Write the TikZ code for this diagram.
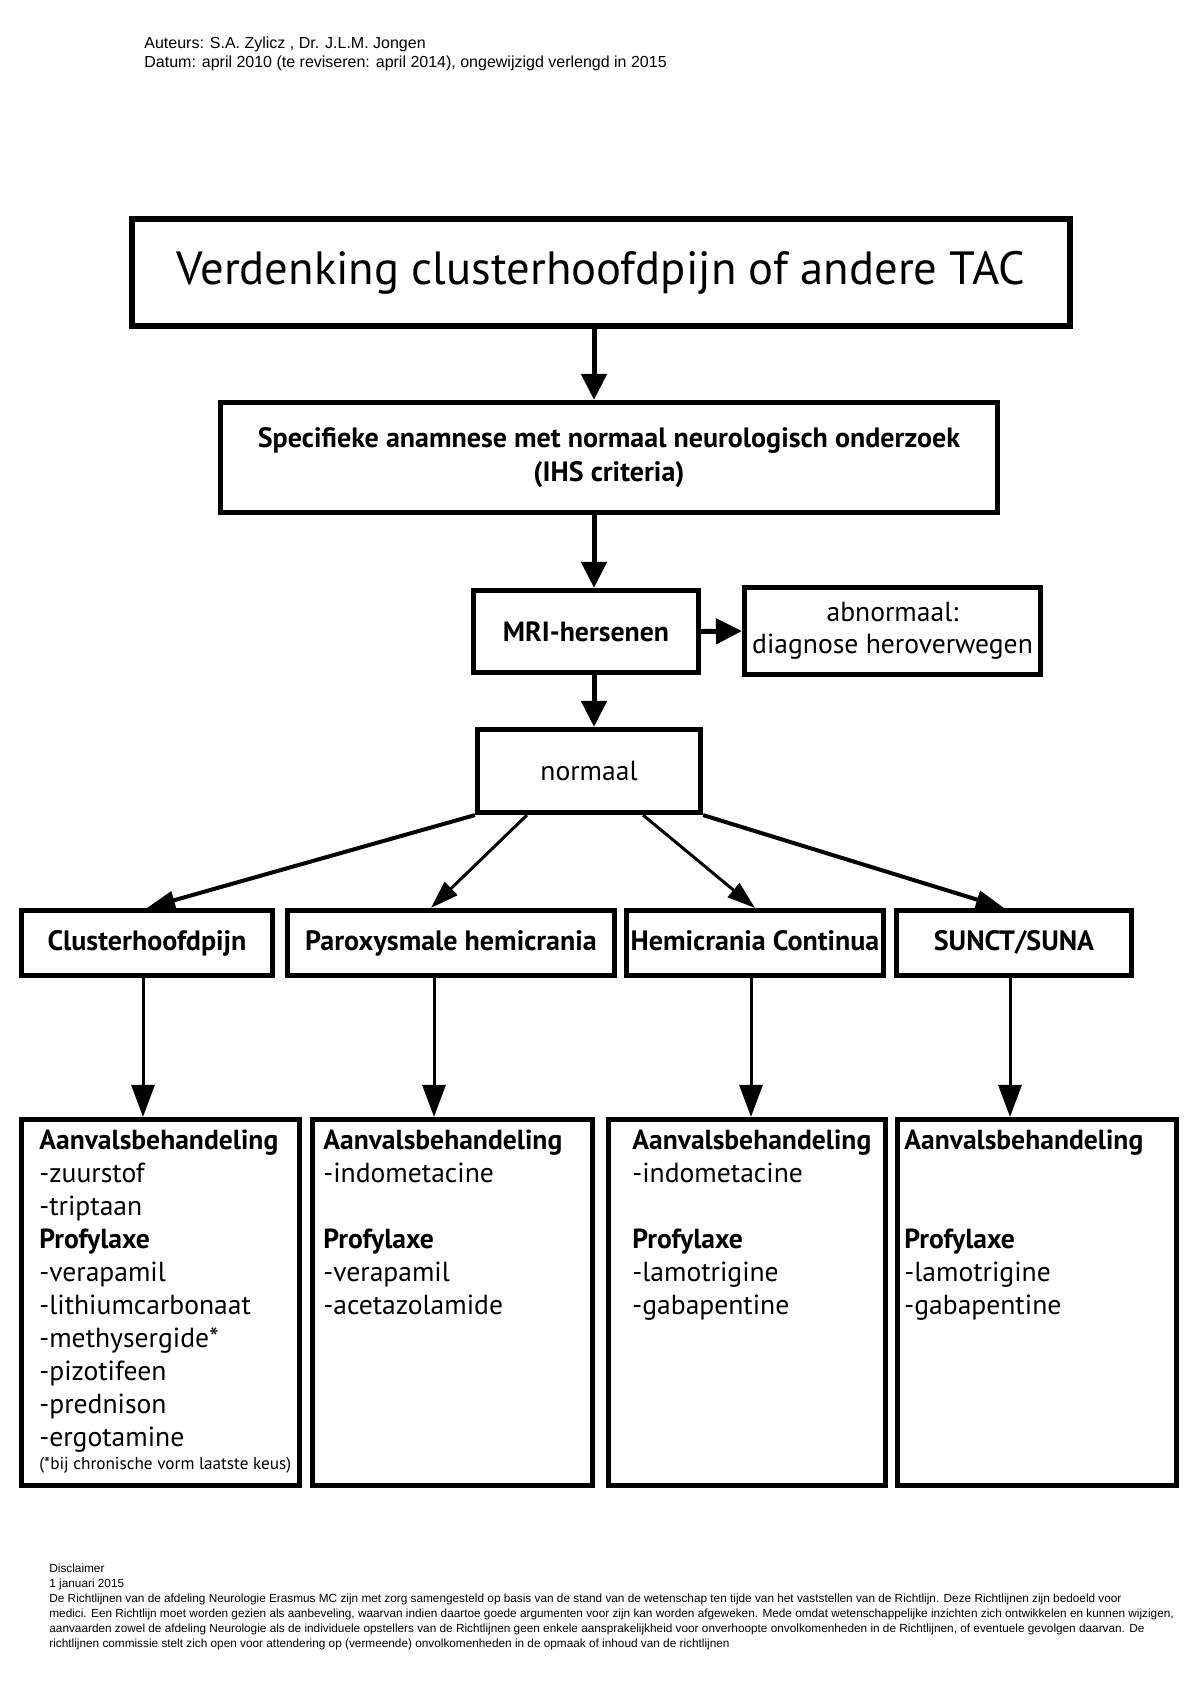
\documentclass[tikz,border=0pt]{standalone}
\usepackage{fontspec}
\setmainfont{PT Sans}
\newfontfamily\arialfont{Liberation Sans}
\usetikzlibrary{arrows.meta}

\tikzset{
  box/.style={draw, line width=2.6pt, inner sep=0pt, align=center},
  catbox/.style={box, minimum height=32.5pt, text height=10.5pt, text depth=3.2pt, font=\fontsize{14}{16}\selectfont\bfseries},
  treatbox/.style={box, minimum height=183pt},
  treattext/.style={anchor=north west, inner sep=0pt, align=left, font=\fontsize{13.8}{16.5}\selectfont},
  headtext/.style={anchor=north west, inner sep=0pt, align=left, font=\arialfont\fontsize{8}{9.5}\selectfont},
  disctext/.style={anchor=north west, inner sep=0pt, align=left, font=\arialfont\fontsize{5.9}{7.5}\selectfont},
  bigarr/.style={line width=2.5pt, -{Triangle[length=13pt, width=12.5pt]}},
  diagarr/.style={line width=#1, -{Triangle[length=14pt, width=9pt]}},
  longarr/.style={line width=1.5pt, -{Triangle[length=16pt, width=11.5pt]}}
}

\begin{document}
\begin{tikzpicture}[x=0.5pt, y=-0.5pt]
  \useasboundingbox (0,0) rectangle (1200,1698);
  \fill[white] (0,0) rectangle (1200,1698);

  % header
  \node[headtext] (auteurs) at (144,37) {Auteurs: S.A. Zylicz , Dr. J.L.M. Jongen\\Datum: april 2010 (te reviseren: april 2014), ongewijzigd verlengd in 2015};

  % flow
  \node[box, line width=3.2pt, minimum width=469pt, minimum height=53.5pt,
        font=\fontsize{23.3}{27}\selectfont] (title) at (601,272.5) {Verdenking clusterhoofdpijn of andere TAC};
  \node[box, minimum width=388.5pt, minimum height=55pt,
        font=\fontsize{14}{17}\selectfont\bfseries] (anam) at (609,457.5) {Specifieke anamnese met normaal neurologisch onderzoek\\(IHS criteria)};
  \node[box, minimum width=112.5pt, minimum height=41pt,
        font=\fontsize{13.9}{16}\selectfont\bfseries] (mri) at (586,631.5) {MRI-hersenen};
  \node[box, minimum width=148pt, minimum height=43.5pt,
        font=\fontsize{13.8}{16}\selectfont] (abn) at (892.5,631) {abnormaal:\\diagnose heroverwegen};
  \node[box, minimum width=111.5pt, minimum height=41.5pt,
        font=\fontsize{13.8}{16}\selectfont] (norm) at (589,771) {normaal};

  % soorten
  \node[catbox, minimum width=125.5pt] (clus) at (147,943) {Clusterhoofdpijn};
  \node[catbox, minimum width=163.5pt] (parox) at (451,943) {Paroxysmale hemicrania};
  \node[catbox, minimum width=128.5pt] (hemi) at (755,943) {Hemicrania Continua};
  \node[catbox, minimum width=117.5pt] (sunct) at (1014,943) {SUNCT/SUNA};

  % behandeling
  \node[treatbox, minimum width=139pt] (tclus) at (160.5,1302.5) {};
  \node[treatbox, minimum width=140pt] (tparox) at (452.5,1302.5) {};
  \node[treatbox, minimum width=138.5pt] (themi) at (747,1302.5) {};
  \node[treatbox, minimum width=139.5pt] (tsunct) at (1037,1302.5) {};

  \node[treattext] (xclus) at (39,1129) {\textbf{Aanvalsbehandeling}\\-zuurstof\\-triptaan\\\textbf{Profylaxe}\\-verapamil\\-lithiumcarbonaat\\-methysergide*\\-pizotifeen\\-prednison\\-ergotamine\\[-5pt]{\fontsize{8.6}{10}\selectfont(*bij chronische vorm laatste keus)}};
  \node[treattext] (xparox) at (323,1129) {\textbf{Aanvalsbehandeling}\\-indometacine\\[16.5pt]\textbf{Profylaxe}\\-verapamil\\-acetazolamide};
  \node[treattext] (xhemi) at (632,1129) {\textbf{Aanvalsbehandeling}\\-indometacine\\[16.5pt]\textbf{Profylaxe}\\-lamotrigine\\-gabapentine};
  \node[treattext] (xsunct) at (904,1129) {\textbf{Aanvalsbehandeling}\\[33pt]\textbf{Profylaxe}\\-lamotrigine\\-gabapentine};

  % pijlen
  \coordinate (spine) at (594,0);
  \draw[bigarr] (title.south -| spine) -- (anam.north -| spine);
  \draw[bigarr] (anam.south -| spine) -- (mri.north -| spine);
  \draw[bigarr] (mri.south -| spine) -- (norm.north -| spine);
  \draw[bigarr] (mri.east) -- (abn.west);

  \draw[diagarr=2pt] (norm.south west) -- (clus.north);
  \draw[diagarr=1.5pt] ([xshift=26pt]norm.south west) -- ([xshift=-10pt]parox.north);
  \draw[diagarr=1.5pt] ([xshift=-30pt]norm.south east) -- (hemi.north);
  \draw[diagarr=2pt] (norm.south east) -- ([xshift=-5pt]sunct.north);

  \draw[longarr] ([xshift=-2pt]clus.south) -- ([xshift=-2pt]clus.south |- tclus.north);
  \draw[longarr] ([xshift=-8.5pt]parox.south) -- ([xshift=-8.5pt]parox.south |- tparox.north);
  \draw[longarr] ([xshift=-2pt]hemi.south) -- ([xshift=-2pt]hemi.south |- themi.north);
  \draw[longarr] ([xshift=-2pt]sunct.south) -- ([xshift=-2pt]sunct.south |- tsunct.north);

  % disclaimer
  \node[disctext] (discl) at (49,1564) {Disclaimer\\1 januari 2015\\De Richtlijnen van de afdeling Neurologie Erasmus MC zijn met zorg samengesteld op basis van de stand van de wetenschap ten tijde van het vaststellen van de Richtlijn. Deze Richtlijnen zijn bedoeld voor\\medici. Een Richtlijn moet worden gezien als aanbeveling, waarvan indien daartoe goede argumenten voor zijn kan worden afgeweken. Mede omdat wetenschappelijke inzichten zich ontwikkelen en kunnen wijzigen,\\aanvaarden zowel de afdeling Neurologie als de individuele opstellers van de Richtlijnen geen enkele aansprakelijkheid voor onverhoopte onvolkomenheden in de Richtlijnen, of eventuele gevolgen daarvan. De\\richtlijnen commissie stelt zich open voor attendering op (vermeende) onvolkomenheden in de opmaak of inhoud van de richtlijnen};
\end{tikzpicture}
\end{document}
